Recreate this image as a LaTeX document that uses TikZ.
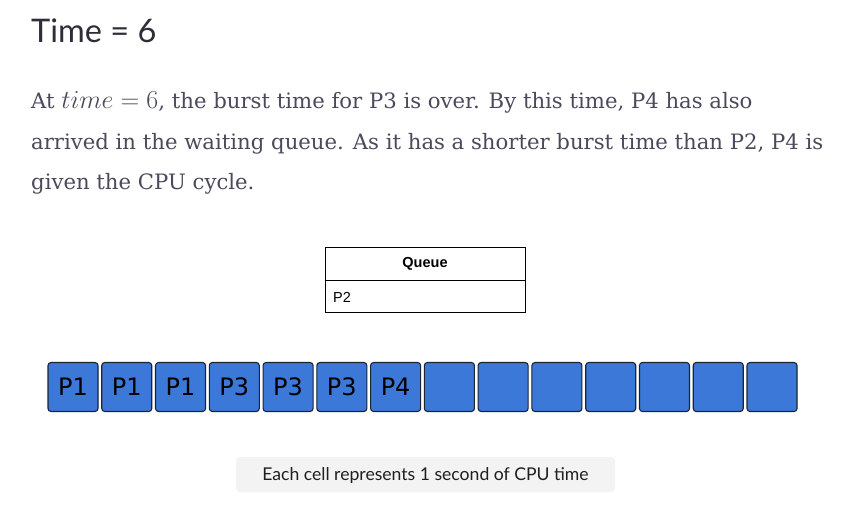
\RequirePackage{fix-cm}
\documentclass[tikz,border=0pt]{standalone}
\usepackage{fontspec}
\usepackage{amsmath}
\setmainfont{DejaVu Serif}
\newfontfamily\titlefont{Lato}
\newfontfamily\tablefont{Liberation Sans}
\newfontfamily\cellfont{DejaVu Sans}
\DeclareMathSizes{21.2}{26}{18}{13}
\definecolor{inktitle}{HTML}{2E2E3A}
\definecolor{inktext}{HTML}{4A4A5C}
\definecolor{cellblue}{HTML}{3C78D8}
\definecolor{celledge}{HTML}{1B2433}
\definecolor{notebg}{HTML}{F3F3F3}

\tikzset{
  cpucell/.style={draw=celledge, fill=cellblue, line width=1.1pt, rounded corners=3pt,
    minimum width=50pt, minimum height=49pt, inner sep=0pt,
    font=\cellfont\fontsize{24}{28}\selectfont},
  qrow/.style={draw=black, line width=0.9pt, minimum width=200pt, inner sep=0pt},
  paraline/.style={anchor=base west, inner sep=0pt, text=inktext,
    font=\fontsize{21.2}{25}\selectfont}
}

\begin{document}
\begin{tikzpicture}[x=1pt, y=-1pt]
  \useasboundingbox[fill=white] (0,0) rectangle (856,516);
  % Titre
  \node[anchor=base west, inner sep=0pt, text=inktitle,
        font=\titlefont\fontsize{32.5}{38}\selectfont] (title) at (31,43) {Time = 6};
  % Paragraphe
  \node[paraline] (line1) at (31,109)
    {At $time = 6$, the burst time for P3 is over. By this time, P4 has also};
  \node[paraline] (line2) at (31,149)
    {arrived in the waiting queue. As it has a shorter burst time than P2, P4 is};
  \node[paraline] (line3) at (31,189) {given the CPU cycle.};
  % File d'attente
  \node[qrow, minimum height=33pt, font=\tablefont\fontsize{14.5}{17}\selectfont\bfseries]
    (qhead) at (425,263.5) {Queue};
  \node[qrow, minimum height=32pt, anchor=north] (qbody) at (qhead.south) {};
  \node[anchor=base west, inner sep=0pt, font=\tablefont\fontsize{14.5}{17}\selectfont]
    (qp2) at (333,302) {P2};
  % Cellules CPU
  \foreach \i/\label in {1/P1,2/P1,3/P1,4/P3,5/P3,6/P3,7/P4,8/,9/,10/,11/,12/,13/,14/}
    \node[cpucell] (cell\i) at ({73+(\i-1)*53.77},387) {\label};
  % Legende
  \node[fill=notebg, rounded corners=4pt, minimum width=379pt, minimum height=35pt]
    (note) at (425.5,474.5) {};
  \node[anchor=base, inner sep=0pt, text=black!88,
        font=\titlefont\fontsize{17.6}{21}\selectfont] (notetext) at (425.5,480.5)
    {Each cell represents 1 second of CPU time};
\end{tikzpicture}
\end{document}
